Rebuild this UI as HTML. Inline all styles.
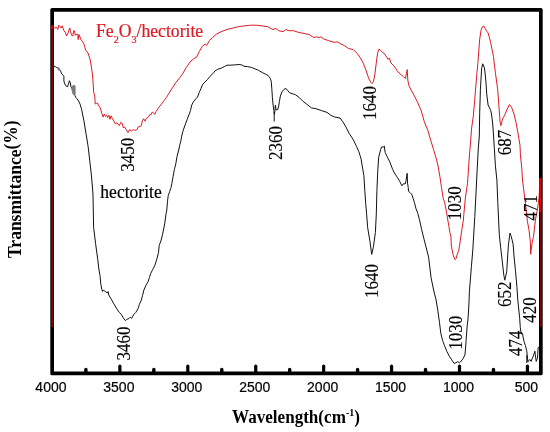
<!DOCTYPE html>
<html><head><meta charset="utf-8"><style>
html,body{margin:0;padding:0;background:#fff;width:550px;height:432px;overflow:hidden}
svg{display:block}
.tk{font-family:"Liberation Sans",Arial,sans-serif;font-size:14px;fill:#000;stroke:#000;stroke-width:0.2px}
.ax{font-family:"Liberation Serif","Times New Roman",serif;font-size:17.1px;font-weight:bold;fill:#000}
.ay{font-family:"Liberation Serif","Times New Roman",serif;font-size:17.5px;font-weight:bold;fill:#000}
.sup{font-size:10px}
.sub{font-size:10px}
.lb{font-family:"Liberation Serif","Times New Roman",serif;font-size:17.5px;stroke-width:0.2px}
.pk{font-family:"Liberation Serif","Times New Roman",serif;font-size:17px;fill:#000;stroke:#000;stroke-width:0.12px}
</style></head><body>
<svg width="550" height="432" viewBox="0 0 550 432">
<rect width="550" height="432" fill="#fff"/>
<polyline points="53.7,65.9 55.6,66.8 56.9,67.7 58.8,68.7 60.6,71 61.6,73.7 63,75.1 63.9,76.5 63.9,81.1 64.8,83.9 66.2,86.2 67.6,86.7 68.5,83.9 69.4,80.7 70.4,83 70.8,86.7 71.8,88.1 73,90 74,93 75,95.5 75.9,97.6 76.6,98.4 78.4,100.7 80.1,104.2 81.6,109.3 83.9,120.8 86.2,134.7 88.1,146.3 89.7,160.2 91.3,174.1 92.5,188 93,195 93.6,227.4 95.6,243.6 97.8,259.8 99,270 100,275.6 100.8,283.9 101.8,289.4 102.5,291.5 103.2,290.1 105.3,291.5 107.4,292.9 108.1,291.5 108.8,295 110.8,298.5 113.6,303.3 116.4,308.2 119.2,312.4 121.3,314.4 123.3,317.9 125.4,320.7 126.8,319.3 128.9,318.6 130.3,317.2 131.7,318.3 133.8,314.4 135.8,312.4 137.9,308.9 139.3,304.7 141.4,299.9 142.5,295.6 143.9,290 146,285.1 148.1,281.7 149.4,277.5 150.8,273.3 152.9,269.2 155,265 157.1,258.1 158.5,252.5 159.2,245.6 161.2,240 162.6,234.2 164.7,223.8 166.1,213.3 166.8,210 167.5,201.4 168.2,195.8 169.6,191.7 171,187.5 171.9,183.3 173.1,176.4 174.4,169.4 175.8,163.9 177,156.5 178.7,150 179.6,145.8 181,140.3 181.7,136.1 183.1,130.6 185.1,125 187.2,119.4 189.3,113.9 190.5,110.5 191.7,105.1 193.5,101.7 195.8,98.8 197.5,97 199.3,92.4 201,88.4 202.7,84.3 205,82 207.4,79.7 209.1,77.4 211.4,75 213.7,72.7 214.9,71 217.8,69.3 221.3,68.1 224.7,66.4 227,65.2 230.2,65.2 234.5,64.9 238.9,64.5 241.8,64.9 244,66.3 247.6,66.6 251.3,67.4 254.9,68.8 258.5,70.3 262.2,72.5 265.6,74.2 268,75.4 270.2,78.3 271.2,81.2 271.8,88.5 272.4,97.5 273.1,105 273.9,110.7 274.4,114.4 274.8,111.7 275.4,105.2 276.1,109.8 277.6,109.8 278.5,107 279.4,101.5 280.4,96 282.2,91.3 285,88.5 286.9,89.4 289.6,92.8 293.3,94 295.6,94.8 299.3,97.6 303,101.3 306.7,104.1 311.3,107.8 315.9,108.7 321.5,110.6 327,112.4 330.7,115.2 334.4,117 340,118 342.8,121.7 345.6,126.3 349.3,133.7 353,139.3 356.7,146.7 357.6,149 358.9,151.7 361.1,159.1 362.6,168.3 363.9,175.7 364.8,190.6 365.7,203.5 366.6,213.9 367.7,227.8 370,241.7 371.7,254.4 373.5,246.3 375.4,232.4 376.3,213.9 376.9,190.6 377.8,170.2 378.7,157.2 380.6,149.8 381.5,147 383.3,147 384.3,146.1 385.2,152.6 387,156.3 389.8,161.9 392.6,169.3 394.4,173 397.3,177.4 399.9,181.7 401.9,185.8 403.3,183.8 405.4,183.8 406.1,180.3 407.2,173.3 407.5,183 408.2,187.2 408.6,191.4 410.3,192.8 411.7,194.2 413.1,198.3 414.4,202.5 415.8,208.1 417.9,213.6 419.3,219.2 420.7,225 421.6,229.4 423.9,238.7 426.3,248 428.6,257.2 431.1,277.8 433.6,290 436.1,300 437.8,310.4 439.5,322.6 440.8,333.3 442.6,340.5 444.4,345.3 446.8,351.3 449.3,356.1 451.7,359.8 454.1,363.4 455.9,362.8 457.7,361.6 459.5,362.8 461.3,361 463.1,358.6 464.9,354.9 465.5,348.9 466.1,340.5 466.7,332 467.3,324.8 467.9,320 468.6,310 469.1,300 469.4,291.7 471.4,266.7 472.8,250 474.8,216.7 476.9,175 478.2,150 479.3,136 479.7,112.9 480.4,89.7 481.6,68.9 482.7,63.8 484.4,67.7 485.3,75 486,82.8 486.7,93.9 488.1,105 490.8,110.6 491.6,115 492.5,122 493.1,129.1 494.3,147.6 495.4,165.8 496.9,180 497.8,202.8 499.3,234.8 500.7,247.8 502,258.9 503,268.1 503.9,275.6 504.8,280.2 506.7,271.9 507.6,257 508.5,244.1 510,233 511.3,236.7 513.1,244.1 514.1,257 515.6,271.9 516.9,286.7 517.8,300 519.7,318.6 520.3,327.6 520.9,332.1 521.6,334 522.6,333.4 522.8,335.9 524.1,341.7 525.4,345.5 526.7,350.6 527.3,355.7 527.9,362 528.6,360.8 529.8,359.5 531.1,361.4 532.4,358.2 533.7,355 534.9,351.2 535.3,354.4 536.2,361.4 537.5,358.2 538.1,348 538.8,346.8" fill="none" stroke="#111" stroke-width="1" stroke-linejoin="round"/>
<polyline points="52.5,27.3 54.9,28 56.7,27.3 57.8,29.5 58.9,25.1 60,26.5 61.1,28 62.2,25.8 62.9,28 64,30.9 65.5,32.7 66.5,36 67.6,34.2 68.7,30.9 69.8,28 70.5,31.6 71.6,35.3 72.7,36 73.8,30.5 74.5,30.9 75.3,35.3 76,34.5 77.1,34.2 77.8,34.5 78.2,39.6 78.9,34.5 79.6,36 80.7,39.3 82.2,41.1 83.6,43.3 84.7,46.2 85.5,50 88,53 89,56 90.2,60 91.4,67 92.5,75 93.1,83.1 93.7,92.4 94.8,95.9 95.2,104 96.6,103.4 97.5,103 98.3,105.1 100.2,107.7 101.9,113.5 103.1,117 104.3,114.1 105.4,116.4 106.6,115.3 107.7,117.6 108.9,115.3 110,119.3 111.2,115.8 112.4,118.7 114.1,121.6 115.3,123.9 117,122.8 119.3,125.7 121,122.2 122.2,123.4 123.4,128 124.5,126.8 126.3,129.7 128,132.6 129.7,129.7 131.5,130.9 133.2,129.7 134.9,130.3 136.7,129.7 138.4,126.8 140.1,126.3 141.3,125.7 142.5,120.5 143.6,118.7 145.1,121.2 146.3,118.3 148.4,117.1 150,114.3 150.8,115.1 152.4,111.9 153.6,113.5 154.8,114.3 156.1,111.5 158.5,107.8 161.7,103.8 164.1,100.5 166.6,97.3 169,93.2 171,90 172.4,87.8 176.1,82.2 179.8,77.6 182.6,73.9 186.3,67.4 190.9,60.9 193.7,58.9 195,57.9 196.5,57.2 199.4,51.4 202.3,46.3 205.2,44.1 206.6,45.5 209.5,40.5 212.5,37.5 216.8,33.9 221.2,31.7 227,29.5 232.8,28.1 238.6,26.6 244.5,25.9 250.3,25.2 256.1,25.2 261.9,25.9 267.7,26.6 270,28.1 272.9,29.5 275.8,28.4 278.7,30.7 283.1,31.7 286,29.5 288.9,30.7 293.3,30.7 299.1,32.5 304.9,33.6 309.3,34.6 313.6,37.5 316.5,36.8 319.5,37.5 320.9,36.8 323.8,39 328.2,40.5 334,42.3 337.6,41.9 339.8,43.4 344.2,45.5 348.5,48.5 353.3,49.6 357.5,53.8 360.3,57.9 363.1,62.8 365.8,69.7 368.6,78.1 370.7,82.2 372.1,83.6 373.5,81.5 374.9,73.9 376.3,62.8 377.6,53.1 379,48.9 380.4,50.3 382.5,52.4 383.9,53.1 385.3,55.1 386.7,57.2 388.1,59.3 389.4,57.9 390.8,62.8 393.6,65.6 395.7,68.3 397.1,70.8 399.2,73.2 401.9,75.3 403.3,76.5 405.4,78.6 407.2,69.6 407.8,80 408.9,85.6 411.7,91.1 414.4,96 417.2,101.5 420,107.8 421,110 424.3,121.7 428,130.9 430.7,140.2 433.5,149.4 436.3,158.7 438.1,166.1 440,177.2 441.5,187.5 443.3,198.9 444.6,202.1 446.7,213.3 447.8,220 448.9,226.3 449.9,232.5 450.9,236.7 451.3,245 452,249.2 453,254.4 454.6,259.1 455.4,259.6 456.1,258.5 457.2,254.4 458.8,250.2 459.8,244 460.8,236.7 461.9,229.4 462.9,223.1 463.4,220 463.8,214.6 465.4,197.9 467.5,183.3 468.7,166.1 469.6,153.1 470.6,142 471.5,129.1 473.3,116.1 474.6,101.3 475.8,86.2 476.9,73.5 477.8,63.6 478.9,49.7 479.6,40 481,30.3 482.4,26.8 483.8,26.1 485.1,28.2 486.9,31.7 487.9,32.4 489.3,37.2 490.7,42.8 492.1,49.7 493.5,56.7 494.4,65 495.5,73.5 497.7,89.4 498.9,105.9 500.1,122.1 500.9,125.6 502.5,119 504.5,115.7 507,109.4 509.6,104.5 511.6,107.4 514,114 516.3,123.8 518.3,135 520,145.3 520.4,154.7 521.8,168.6 522.5,180 523.7,189.8 525.6,204.6 527.4,221.3 528.9,229.3 530.4,242.2 530.7,254.3 532.2,242.2 533.5,236.7 535.4,220 537.6,208.3 539.1,197.2 539.8,182.4 540.5,178" fill="none" stroke="#dc1a24" stroke-width="1" stroke-linejoin="round"/>
<polygon points="56.5,66.8 59,67.2 60.8,70 60.6,71.5 58.5,70.6 57,68.6" fill="#858585"/>
<polygon points="71.5,86 74.5,84.8 75.6,86 75.6,94 74,95.5 72.5,94 71.3,89" fill="#7c7c7c"/>
<line x1="274.2" y1="112" x2="274.2" y2="121.5" stroke="#111" stroke-width="1"/>
<line x1="526.8" y1="355" x2="526.8" y2="363" stroke="#111" stroke-width="1"/>
<rect x="52.15" y="9.85" width="488.70" height="363.60" fill="none" stroke="#000" stroke-width="3.7" stroke-linejoin="round"/>
<line x1="52.15" y1="25" x2="52.15" y2="327" stroke="#7a0606" stroke-width="1.8"/>
<line x1="540.85" y1="205" x2="540.85" y2="327" stroke="#7a0606" stroke-width="1.8"/>
<line x1="540.3" y1="178" x2="540.3" y2="212" stroke="#e00000" stroke-width="2.3"/>
<line x1="50.8" y1="27.4" x2="54" y2="27.4" stroke="#e00000" stroke-width="2.2"/>
<line x1="119.88" y1="372.60" x2="119.88" y2="366.2" stroke="#000" stroke-width="3.2" stroke-linecap="round"/>
<line x1="187.80" y1="372.60" x2="187.80" y2="366.2" stroke="#000" stroke-width="3.2" stroke-linecap="round"/>
<line x1="255.73" y1="372.60" x2="255.73" y2="366.2" stroke="#000" stroke-width="3.2" stroke-linecap="round"/>
<line x1="323.65" y1="372.60" x2="323.65" y2="366.2" stroke="#000" stroke-width="3.2" stroke-linecap="round"/>
<line x1="391.57" y1="372.60" x2="391.57" y2="366.2" stroke="#000" stroke-width="3.2" stroke-linecap="round"/>
<line x1="459.50" y1="372.60" x2="459.50" y2="366.2" stroke="#000" stroke-width="3.2" stroke-linecap="round"/>
<line x1="527.43" y1="372.60" x2="527.43" y2="366.2" stroke="#000" stroke-width="3.2" stroke-linecap="round"/>
<line x1="85.91" y1="372.60" x2="85.91" y2="369.4" stroke="#000" stroke-width="3.4" stroke-linecap="round"/>
<line x1="153.84" y1="372.60" x2="153.84" y2="369.4" stroke="#000" stroke-width="3.4" stroke-linecap="round"/>
<line x1="221.76" y1="372.60" x2="221.76" y2="369.4" stroke="#000" stroke-width="3.4" stroke-linecap="round"/>
<line x1="289.69" y1="372.60" x2="289.69" y2="369.4" stroke="#000" stroke-width="3.4" stroke-linecap="round"/>
<line x1="357.61" y1="372.60" x2="357.61" y2="369.4" stroke="#000" stroke-width="3.4" stroke-linecap="round"/>
<line x1="425.54" y1="372.60" x2="425.54" y2="369.4" stroke="#000" stroke-width="3.4" stroke-linecap="round"/>
<line x1="493.46" y1="372.60" x2="493.46" y2="369.4" stroke="#000" stroke-width="3.4" stroke-linecap="round"/>
<text class="tk" x="50.95" y="391.8" text-anchor="middle">4000</text>
<text class="tk" x="118.88" y="391.8" text-anchor="middle">3500</text>
<text class="tk" x="186.80" y="391.8" text-anchor="middle">3000</text>
<text class="tk" x="254.73" y="391.8" text-anchor="middle">2500</text>
<text class="tk" x="322.65" y="391.8" text-anchor="middle">2000</text>
<text class="tk" x="390.57" y="391.8" text-anchor="middle">1500</text>
<text class="tk" x="458.50" y="391.8" text-anchor="middle">1000</text>
<text class="tk" x="526.43" y="391.8" text-anchor="middle">500</text>
<text class="ax" transform="translate(232,422.6) scale(1,1.08)">Wavelength(cm<tspan class="sup" dy="-6.5">-1</tspan><tspan dy="6.5">)</tspan></text>
<text class="ay" transform="translate(20.6,258) rotate(-90) scale(1,1.05)">Transmittance<tspan dy="-3.2">(%)</tspan></text>
<text class="lb" transform="translate(96,36.6) scale(1.01,1.07)" style="fill:#dc1a24;stroke:#dc1a24">Fe<tspan class="sub" dy="5.9">2</tspan><tspan dy="-5.9">O</tspan><tspan class="sub" dy="5.9">3</tspan><tspan dy="-5.9">/hectorite</tspan></text>
<text class="lb" transform="translate(100.3,198.4) scale(1.005,1.06)" style="fill:#000;stroke:#000">hectorite</text>
<text class="pk" transform="translate(134.3,171.8) rotate(-90) scale(1,1.06)">3450</text>
<text class="pk" transform="translate(282.0,160.0) rotate(-90) scale(1,1.06)">2360</text>
<text class="pk" transform="translate(376.4,120.0) rotate(-90) scale(1,1.06)">1640</text>
<text class="pk" transform="translate(460.6,220.2) rotate(-90) scale(1,1.06)">1030</text>
<text class="pk" transform="translate(511.4,155.2) rotate(-90) scale(1,1.06)">687</text>
<text class="pk" transform="translate(536.7,220.5) rotate(-90) scale(1,1.06)">471</text>
<text class="pk" transform="translate(129.5,360.5) rotate(-90) scale(1,1.06)">3460</text>
<text class="pk" transform="translate(378.1,298.0) rotate(-90) scale(1,1.06)">1640</text>
<text class="pk" transform="translate(462.1,349.8) rotate(-90) scale(1,1.06)">1030</text>
<text class="pk" transform="translate(511.4,307.0) rotate(-90) scale(1,1.06)">652</text>
<text class="pk" transform="translate(536.2,322.8) rotate(-90) scale(1,1.06)">420</text>
<text class="pk" transform="translate(521.6,356.0) rotate(-90) scale(1,1.06)">474</text>
</svg>
</body></html>
